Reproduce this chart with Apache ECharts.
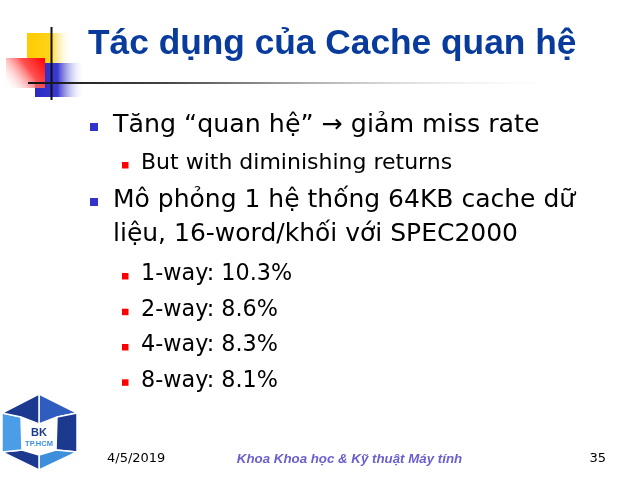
<!DOCTYPE html>
<html>
<head>
<meta charset="utf-8">
<script src="https://cdn.jsdelivr.net/npm/echarts@6/dist/echarts.min.js"></script>
<style>
html,body{margin:0;padding:0;background:#fff;}
#main{width:638px;height:478px;}
</style>
</head>
<body>
<div id="main"></div>
<script>
// ---- content ----
const titleText = 'Tác dụng của Cache quan hệ';
const level1Items = ['Tăng “quan hệ” → giảm miss rate', 'Mô phỏng 1 hệ thống 64KB cache dữ\nliệu, 16-word/khối với SPEC2000'];
const subItem1 = ['But with diminishing returns'];
const ways = ['1-way', '2-way', '4-way', '8-way'];
const missRates = [10.3, 8.6, 8.3, 8.1];
const footerDate = '4/5/2019';
const footerCenter = 'Khoa Khoa học & Kỹ thuật Máy tính';
const pageNumber = '35';

const chart = echarts.init(document.getElementById('main'), null, {renderer: 'canvas'});

const BODY_FONT = '"DejaVu Sans", Verdana, sans-serif';
const TEXT_COLOR = '#000000';
const BLUE_BULLET = '#3333cc';
const RED_BULLET = '#ff0000';

const g = [];

// decoration top-left
g.push({type: 'rect', shape: {x: 27, y: 33, width: 45, height: 31}, z: 1,
  style: {fill: {type: 'linear', x: 0, y: 0, x2: 1, y2: 0, colorStops: [
    {offset: 0, color: '#ffcc00'}, {offset: 0.5, color: '#ffd21a'}, {offset: 1, color: 'rgba(255,255,255,0)'}]}}});
g.push({type: 'rect', shape: {x: 35, y: 63, width: 50, height: 34}, z: 2,
  style: {fill: {type: 'linear', x: 0, y: 0, x2: 1, y2: 0, colorStops: [
    {offset: 0, color: '#2929c4'}, {offset: 0.45, color: '#3a3ad0'}, {offset: 1, color: 'rgba(255,255,255,0)'}]}}});
g.push({type: 'rect', shape: {x: 6, y: 58, width: 39, height: 30}, z: 3,
  style: {fill: {type: 'linear', x: 1, y: 0, x2: 0, y2: 1, colorStops: [
    {offset: 0, color: '#ff0000'}, {offset: 0.4, color: '#ff5050'}, {offset: 1, color: 'rgba(255,255,255,0)'}]}}});
g.push({type: 'line', shape: {x1: 51.5, y1: 27, x2: 51.5, y2: 100}, z: 4,
  style: {stroke: '#111', lineWidth: 2}});
g.push({type: 'line', shape: {x1: 28, y1: 83, x2: 575, y2: 83}, z: 4,
  style: {lineWidth: 2, stroke: {type: 'linear', x: 0, y: 0, x2: 1, y2: 0, colorStops: [
    {offset: 0, color: '#111'}, {offset: 0.25, color: '#444'}, {offset: 0.5, color: '#aaa'}, {offset: 1, color: 'rgba(255,255,255,0)'}]}}});

// title
g.push({type: 'text', x: 88, y: 44.5, z: 5, style: {text: titleText, fill: '#083b9c',
  font: 'bold 35.3px "Liberation Sans", Arial, sans-serif', align: 'left', verticalAlign: 'middle'}});

function blueBullet(y){ g.push({type: 'rect', shape: {x: 90, y: y, width: 8, height: 8}, z: 5, style: {fill: BLUE_BULLET}}); }
function redBullet(y){ g.push({type: 'rect', shape: {x: 122, y: y, width: 6.5, height: 6.5}, z: 5, style: {fill: RED_BULLET}}); }
function txt(x, y, s, size){ g.push({type: 'text', x: x, y: y, z: 5, style: {text: s, fill: TEXT_COLOR,
  font: size + 'px ' + BODY_FONT, align: 'left', verticalAlign: 'middle'}}); }

// level 1 item 1
blueBullet(123);
txt(113, 125.6, level1Items[0], 25.3);
// sub item
redBullet(162);
txt(141, 163.5, subItem1[0], 22);
// level 1 item 2 (two lines)
const l2lines = level1Items[1].split('\n');
blueBullet(198);
txt(113, 200.6, l2lines[0], 25);
txt(113, 234.3, l2lines[1], 25);
// ways
const wayBaselines = [281, 316.7, 352, 387.3];
ways.forEach(function(w, i){
  redBullet(wayBaselines[i] - 8);
  txt(141, wayBaselines[i] - 6.5, w + ': ' + missRates[i].toFixed(1) + '%', 22.3);
});

// footer
g.push({type: 'text', x: 107, y: 459, z: 5, style: {text: footerDate, fill: '#000',
  font: '13px ' + BODY_FONT, align: 'left', verticalAlign: 'middle'}});
g.push({type: 'text', x: 349.5, y: 459, z: 5, style: {text: footerCenter, fill: '#6a5fcf',
  font: 'italic bold 13.3px "Liberation Sans", Arial, sans-serif', align: 'center', verticalAlign: 'middle'}});
g.push({type: 'text', x: 606, y: 459, z: 5, style: {text: pageNumber, fill: '#000',
  font: '13px ' + BODY_FONT, align: 'right', verticalAlign: 'middle'}});

// logo
const outer = [[39,394],[77,413],[77,452],[39,470],[2,452],[2,413]];
const inner = [[39,424],[57,417],[56,450],[39,455],[22,450],[21,417]];
const segColors = ['#2f5cbf', '#1b3a8f', '#3d8fdc', '#1b3a8f', '#4a9de6', '#1b3a8f'];
for (let i = 0; i < 6; i++) {
  const j = (i + 1) % 6;
  g.push({type: 'polygon', z: 5, shape: {points: [outer[i], outer[j], inner[j], inner[i]]},
    style: {fill: segColors[i], stroke: '#fff', lineWidth: 1.5}});
}
g.push({type: 'polygon', z: 5, shape: {points: inner}, style: {fill: '#fff'}});
g.push({type: 'text', x: 39, y: 433, z: 6, style: {text: 'BK', fill: '#1b3a8f',
  font: 'bold 11px "Liberation Sans", Arial, sans-serif', align: 'center', verticalAlign: 'middle'}});
g.push({type: 'text', x: 39, y: 444, z: 6, style: {text: 'TP.HCM', fill: '#3d8fdc',
  font: 'bold 7.5px "Liberation Sans", Arial, sans-serif', align: 'center', verticalAlign: 'middle'}});

chart.setOption({
  backgroundColor: '#ffffff',
  animation: false,
  graphic: {elements: g}
});
</script>
</body>
</html>
